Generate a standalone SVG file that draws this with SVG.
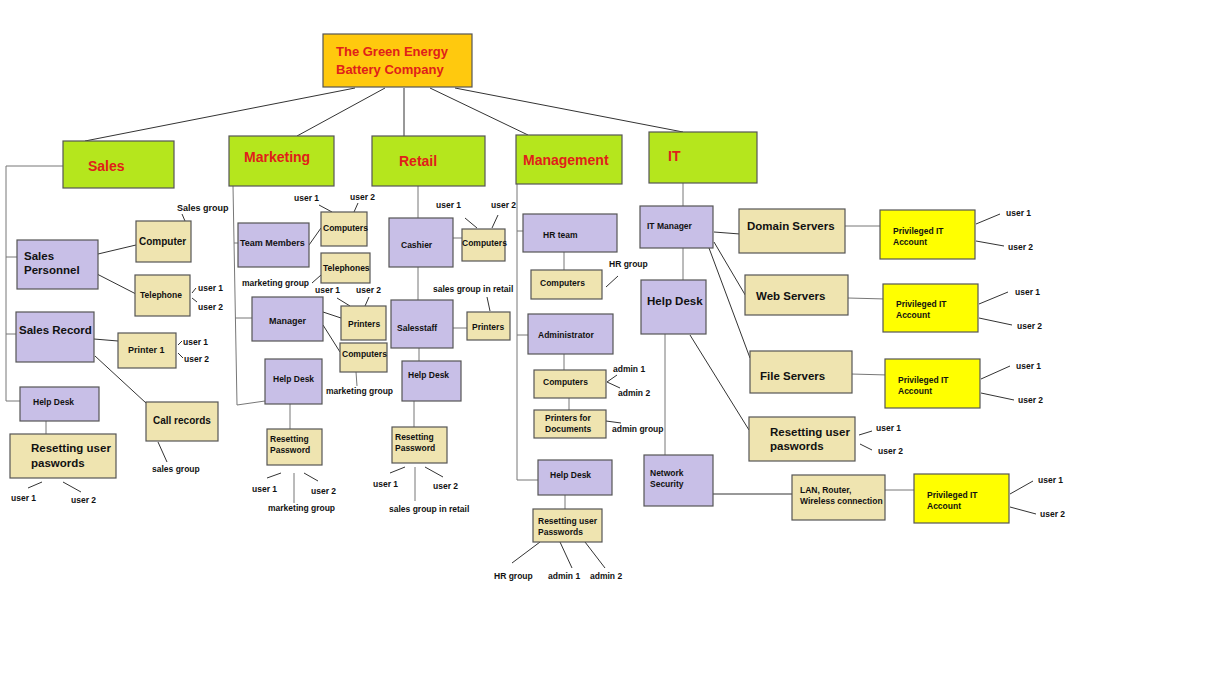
<svg xmlns="http://www.w3.org/2000/svg" width="1210" height="681" viewBox="0 0 1210 681">
<style>
rect{stroke:#555;stroke-width:1.2}
.top{fill:#FFC90E}
.dept{fill:#B5E61D}
.pur{fill:#C8BFE7}
.tan{fill:#EFE4B0}
.yel{fill:#FFFF00}
text{font-family:"Liberation Sans",Arial,sans-serif;font-weight:bold;fill:#111;font-size:9px}
.title{fill:#E0201A;font-size:14px}
.big{font-size:11.5px}
.mid{font-size:10px}
.sm{font-size:8.5px}
.c line,.c polyline{stroke:#333;stroke-width:1;fill:none}
.c .g{stroke:#777}
</style>
<rect width="1210" height="681" fill="#fff" style="stroke:none"/>
<g class="c" id="connectors">
<line x1="355" y1="88" x2="85" y2="141"/>
<line x1="385" y1="88" x2="297" y2="136"/>
<line x1="404" y1="88" x2="404" y2="136"/>
<line x1="430" y1="88" x2="528" y2="135"/>
<line x1="455" y1="88" x2="683" y2="132"/>
<polyline class="g" points="63,166 6,166 6,401 20,401"/>
<line class="g" x1="6" y1="257" x2="17" y2="257"/>
<line class="g" x1="6" y1="334" x2="16" y2="334"/>
<line x1="98" y1="254" x2="136" y2="245"/>
<line x1="97" y1="274" x2="136" y2="294"/>
<line x1="185" y1="221" x2="182" y2="214"/>
<line x1="192" y1="293" x2="196" y2="288"/>
<line x1="192" y1="298" x2="197" y2="302"/>
<line x1="94" y1="339" x2="118" y2="341"/>
<line x1="178" y1="345" x2="182" y2="341"/>
<line x1="178" y1="353" x2="183" y2="358"/>
<line x1="95" y1="356" x2="146" y2="403"/>
<line x1="158" y1="442" x2="167" y2="462"/>
<line class="g" x1="46" y1="421" x2="46" y2="434"/>
<line x1="42" y1="482" x2="28" y2="488"/>
<line x1="63" y1="482" x2="81" y2="492"/>
<polyline class="g" points="233,186 237,405 265,401"/>
<line class="g" x1="234" y1="243" x2="238" y2="243"/>
<line class="g" x1="235" y1="318" x2="252" y2="318"/>
<line x1="309" y1="245" x2="321" y2="228"/>
<line x1="332" y1="212" x2="319" y2="205"/>
<line x1="354" y1="212" x2="358" y2="203"/>
<line x1="312" y1="283" x2="321" y2="275"/>
<line x1="350" y1="306" x2="337" y2="298"/>
<line x1="365" y1="306" x2="369" y2="297"/>
<line x1="323" y1="312" x2="341" y2="318"/>
<line x1="323" y1="325" x2="340" y2="352"/>
<line class="g" x1="356" y1="372" x2="357" y2="386"/>
<line class="g" x1="290" y1="404" x2="290" y2="429"/>
<line x1="281" y1="473" x2="267" y2="478"/>
<line class="g" x1="294" y1="473" x2="294" y2="503"/>
<line x1="304" y1="473" x2="318" y2="481"/>
<line class="g" x1="418" y1="186" x2="418" y2="218"/>
<line class="g" x1="453" y1="238" x2="462" y2="238"/>
<line x1="477" y1="228" x2="465" y2="218"/>
<line x1="492" y1="228" x2="498" y2="215"/>
<line class="g" x1="418" y1="267" x2="418" y2="300"/>
<line class="g" x1="453" y1="328" x2="467" y2="328"/>
<line x1="490" y1="311" x2="487" y2="297"/>
<line class="g" x1="419" y1="348" x2="419" y2="361"/>
<line class="g" x1="414" y1="401" x2="414" y2="427"/>
<line x1="405" y1="467" x2="390" y2="473"/>
<line class="g" x1="415" y1="467" x2="415" y2="501"/>
<line x1="425" y1="467" x2="443" y2="477"/>
<polyline class="g" points="517,184 517,480 538,480"/>
<line class="g" x1="517" y1="231" x2="523" y2="231"/>
<line class="g" x1="517" y1="335" x2="528" y2="335"/>
<line class="g" x1="564" y1="252" x2="564" y2="270"/>
<line x1="606" y1="287" x2="618" y2="276"/>
<line class="g" x1="564" y1="354" x2="564" y2="370"/>
<line x1="607" y1="382" x2="617" y2="375"/>
<line x1="607" y1="382" x2="620" y2="388"/>
<line class="g" x1="569" y1="398" x2="569" y2="410"/>
<line x1="606" y1="421" x2="621" y2="423"/>
<line class="g" x1="565" y1="495" x2="565" y2="509"/>
<line x1="540" y1="542" x2="512" y2="563"/>
<line x1="560" y1="542" x2="572" y2="568"/>
<line x1="585" y1="542" x2="605" y2="568"/>
<line class="g" x1="683" y1="183" x2="683" y2="206"/>
<line class="g" x1="683" y1="248" x2="683" y2="280"/>
<line x1="714" y1="232" x2="740" y2="234"/>
<line x1="714" y1="242" x2="747" y2="298"/>
<line x1="709" y1="248" x2="750" y2="358"/>
<line x1="690" y1="335" x2="749" y2="430"/>
<line x1="859" y1="435" x2="872" y2="431"/>
<line x1="860" y1="444" x2="872" y2="450"/>
<line class="g" x1="665" y1="334" x2="665" y2="455"/>
<line x1="713" y1="494" x2="792" y2="494"/>
<line class="g" x1="845" y1="226" x2="883" y2="226"/>
<line x1="976" y1="224" x2="1000" y2="214"/>
<line x1="976" y1="241" x2="1004" y2="246"/>
<line class="g" x1="848" y1="298" x2="886" y2="299"/>
<line x1="979" y1="304" x2="1008" y2="292"/>
<line x1="979" y1="318" x2="1012" y2="325"/>
<line class="g" x1="851" y1="374" x2="888" y2="375"/>
<line x1="981" y1="379" x2="1010" y2="366"/>
<line x1="981" y1="393" x2="1014" y2="400"/>
<line class="g" x1="885" y1="490" x2="916" y2="490"/>
<line x1="1010" y1="494" x2="1033" y2="481"/>
<line x1="1010" y1="507" x2="1036" y2="514"/>
</g>
<g id="company"><rect class="top" x="323" y="34" width="149" height="53"/><text class="title" x="336" y="56" style="font-size:13px">The Green Energy</text><text class="title" x="336" y="74" style="font-size:13px">Battery Company</text></g>
<g id="sales"><rect class="dept" x="63" y="141" width="111" height="47"/><text class="title" x="88" y="171">Sales</text></g>
<g id="marketing"><rect class="dept" x="229" y="136" width="105" height="50"/><text class="title" x="244" y="162">Marketing</text></g>
<g id="retail"><rect class="dept" x="372" y="136" width="113" height="50"/><text class="title" x="399" y="166">Retail</text></g>
<g id="management"><rect class="dept" x="516" y="135" width="106" height="49"/><text class="title" x="523" y="165">Management</text></g>
<g id="it"><rect class="dept" x="649" y="132" width="108" height="51"/><text class="title" x="668" y="161">IT</text></g>

<g id="sales-personnel"><rect class="pur" x="17" y="240" width="81" height="49"/><text class="big" x="24" y="260">Sales</text><text class="big" x="24" y="274">Personnel</text></g>
<g id="sales-computer"><rect class="tan" x="136" y="221" width="55" height="41"/><text class="mid" x="139" y="245">Computer</text><text x="177" y="211">Sales group</text></g>
<g id="sales-telephone"><rect class="tan" x="135" y="275" width="55" height="41"/><text class="sm" x="140" y="298">Telephone</text><text class="sm" x="198" y="291">user 1</text><text class="sm" x="198" y="310">user 2</text></g>
<g id="sales-record"><rect class="pur" x="16" y="312" width="78" height="50"/><text class="big" x="19" y="334">Sales Record</text></g>
<g id="sales-printer"><rect class="tan" x="118" y="333" width="58" height="35"/><text x="128" y="353">Printer 1</text><text class="sm" x="183" y="345">user 1</text><text class="sm" x="184" y="362">user 2</text></g>
<g id="sales-call"><rect class="tan" x="146" y="402" width="72" height="39"/><text class="mid" x="153" y="424">Call records</text><text class="sm" x="152" y="472">sales group</text></g>
<g id="sales-helpdesk"><rect class="pur" x="20" y="387" width="79" height="34"/><text class="sm" x="33" y="405">Help Desk</text></g>
<g id="sales-reset"><rect class="tan" x="10" y="434" width="106" height="44"/><text class="big" x="31" y="452">Resetting user</text><text class="big" x="31" y="467">paswords</text><text class="sm" x="11" y="501">user 1</text><text class="sm" x="71" y="503">user 2</text></g>

<g id="mkt-team"><rect class="pur" x="238" y="223" width="71" height="44"/><text x="240" y="246">Team Members</text></g>
<g id="mkt-computers"><rect class="tan" x="321" y="212" width="46" height="34"/><text class="sm" x="323" y="231">Computers</text><text class="sm" x="294" y="201">user 1</text><text class="sm" x="350" y="200">user 2</text></g>
<g id="mkt-telephones"><rect class="tan" x="321" y="253" width="49" height="30"/><text class="sm" x="323" y="271">Telephones</text><text class="sm" x="242" y="286">marketing group</text></g>
<g id="mkt-manager"><rect class="pur" x="252" y="297" width="71" height="44"/><text x="269" y="324">Manager</text></g>
<g id="mkt-printers"><rect class="tan" x="341" y="306" width="45" height="34"/><text class="sm" x="348" y="327">Printers</text><text class="sm" x="315" y="293">user 1</text><text class="sm" x="356" y="293">user 2</text></g>
<g id="mkt-computers2"><rect class="tan" x="340" y="343" width="47" height="29"/><text class="sm" x="342" y="357">Computers</text><text class="sm" x="326" y="394">marketing group</text></g>
<g id="mkt-helpdesk"><rect class="pur" x="265" y="359" width="57" height="45"/><text class="sm" x="273" y="382">Help Desk</text></g>
<g id="mkt-reset"><rect class="tan" x="267" y="429" width="55" height="36"/><text class="sm" x="270" y="442">Resetting</text><text class="sm" x="270" y="453">Password</text><text class="sm" x="252" y="492">user 1</text><text class="sm" x="311" y="494">user 2</text><text class="sm" x="268" y="511">marketing group</text></g>

<g id="ret-cashier"><rect class="pur" x="389" y="218" width="64" height="49"/><text class="sm" x="401" y="248">Cashier</text></g>
<g id="ret-computers"><rect class="tan" x="462" y="229" width="43" height="32"/><text class="sm" x="462" y="246">Computers</text><text class="sm" x="436" y="208">user 1</text><text class="sm" x="491" y="208">user 2</text></g>
<g id="ret-salesstaff"><rect class="pur" x="391" y="300" width="62" height="48"/><text class="sm" x="397" y="331">Salesstaff</text></g>
<g id="ret-printers"><rect class="tan" x="467" y="312" width="43" height="28"/><text class="sm" x="472" y="330">Printers</text><text class="sm" x="433" y="292">sales group in retail</text></g>
<g id="ret-helpdesk"><rect class="pur" x="402" y="361" width="59" height="40"/><text class="sm" x="408" y="378">Help Desk</text></g>
<g id="ret-reset"><rect class="tan" x="392" y="427" width="55" height="36"/><text class="sm" x="395" y="440">Resetting</text><text class="sm" x="395" y="451">Password</text><text class="sm" x="373" y="487">user 1</text><text class="sm" x="433" y="489">user 2</text><text class="sm" x="389" y="512">sales group in retail</text></g>

<g id="man-hr"><rect class="pur" x="523" y="214" width="94" height="38"/><text class="sm" x="543" y="238">HR team</text></g>
<g id="man-computers"><rect class="tan" x="531" y="270" width="71" height="29"/><text class="sm" x="540" y="286">Computers</text><text class="sm" x="609" y="267">HR group</text></g>
<g id="man-admin"><rect class="pur" x="528" y="314" width="85" height="40"/><text class="sm" x="538" y="338">Administrator</text></g>
<g id="man-computers2"><rect class="tan" x="534" y="370" width="72" height="28"/><text class="sm" x="543" y="385">Computers</text><text class="sm" x="613" y="372">admin 1</text><text class="sm" x="618" y="396">admin 2</text></g>
<g id="man-printers"><rect class="tan" x="534" y="410" width="72" height="28"/><text class="sm" x="545" y="421">Printers for</text><text class="sm" x="545" y="432">Documents</text><text class="sm" x="612" y="432">admin group</text></g>
<g id="man-helpdesk"><rect class="pur" x="538" y="460" width="74" height="35"/><text class="sm" x="550" y="478">Help Desk</text></g>
<g id="man-reset"><rect class="tan" x="533" y="509" width="69" height="33"/><text class="sm" x="538" y="524">Resetting user</text><text class="sm" x="538" y="535">Passwords</text><text class="sm" x="494" y="579">HR group</text><text class="sm" x="548" y="579">admin 1</text><text class="sm" x="590" y="579">admin 2</text></g>

<g id="it-manager"><rect class="pur" x="640" y="206" width="73" height="42"/><text class="sm" x="647" y="229">IT Manager</text></g>
<g id="it-helpdesk"><rect class="pur" x="641" y="280" width="65" height="54"/><text class="big" x="647" y="305">Help Desk</text></g>
<g id="it-domain"><rect class="tan" x="739" y="209" width="106" height="44"/><text class="big" x="747" y="230">Domain Servers</text></g>
<g id="it-web"><rect class="tan" x="745" y="275" width="103" height="40"/><text class="big" x="756" y="300">Web Servers</text></g>
<g id="it-file"><rect class="tan" x="750" y="351" width="102" height="42"/><text class="big" x="760" y="380">File Servers</text></g>
<g id="it-reset"><rect class="tan" x="749" y="417" width="106" height="44"/><text class="big" x="770" y="436">Resetting user</text><text class="big" x="770" y="450">paswords</text><text class="sm" x="876" y="431">user 1</text><text class="sm" x="878" y="454">user 2</text></g>
<g id="it-netsec"><rect class="pur" x="644" y="455" width="69" height="51"/><text class="sm" x="650" y="476">Network</text><text class="sm" x="650" y="487">Security</text></g>
<g id="it-lan"><rect class="tan" x="792" y="475" width="93" height="45"/><text class="sm" x="800" y="493">LAN, Router,</text><text class="sm" x="800" y="504">Wireless connection</text></g>

<g id="priv1"><rect class="yel" x="880" y="210" width="95" height="49"/><text class="sm" x="893" y="234">Privileged IT</text><text class="sm" x="893" y="245">Account</text><text class="sm" x="1006" y="216">user 1</text><text class="sm" x="1008" y="250">user 2</text></g>
<g id="priv2"><rect class="yel" x="883" y="284" width="95" height="48"/><text class="sm" x="896" y="307">Privileged IT</text><text class="sm" x="896" y="318">Account</text><text class="sm" x="1015" y="295">user 1</text><text class="sm" x="1017" y="329">user 2</text></g>
<g id="priv3"><rect class="yel" x="885" y="359" width="95" height="49"/><text class="sm" x="898" y="383">Privileged IT</text><text class="sm" x="898" y="394">Account</text><text class="sm" x="1016" y="369">user 1</text><text class="sm" x="1018" y="403">user 2</text></g>
<g id="priv4"><rect class="yel" x="914" y="474" width="95" height="49"/><text class="sm" x="927" y="498">Privileged IT</text><text class="sm" x="927" y="509">Account</text><text class="sm" x="1038" y="483">user 1</text><text class="sm" x="1040" y="517">user 2</text></g>
</svg>
